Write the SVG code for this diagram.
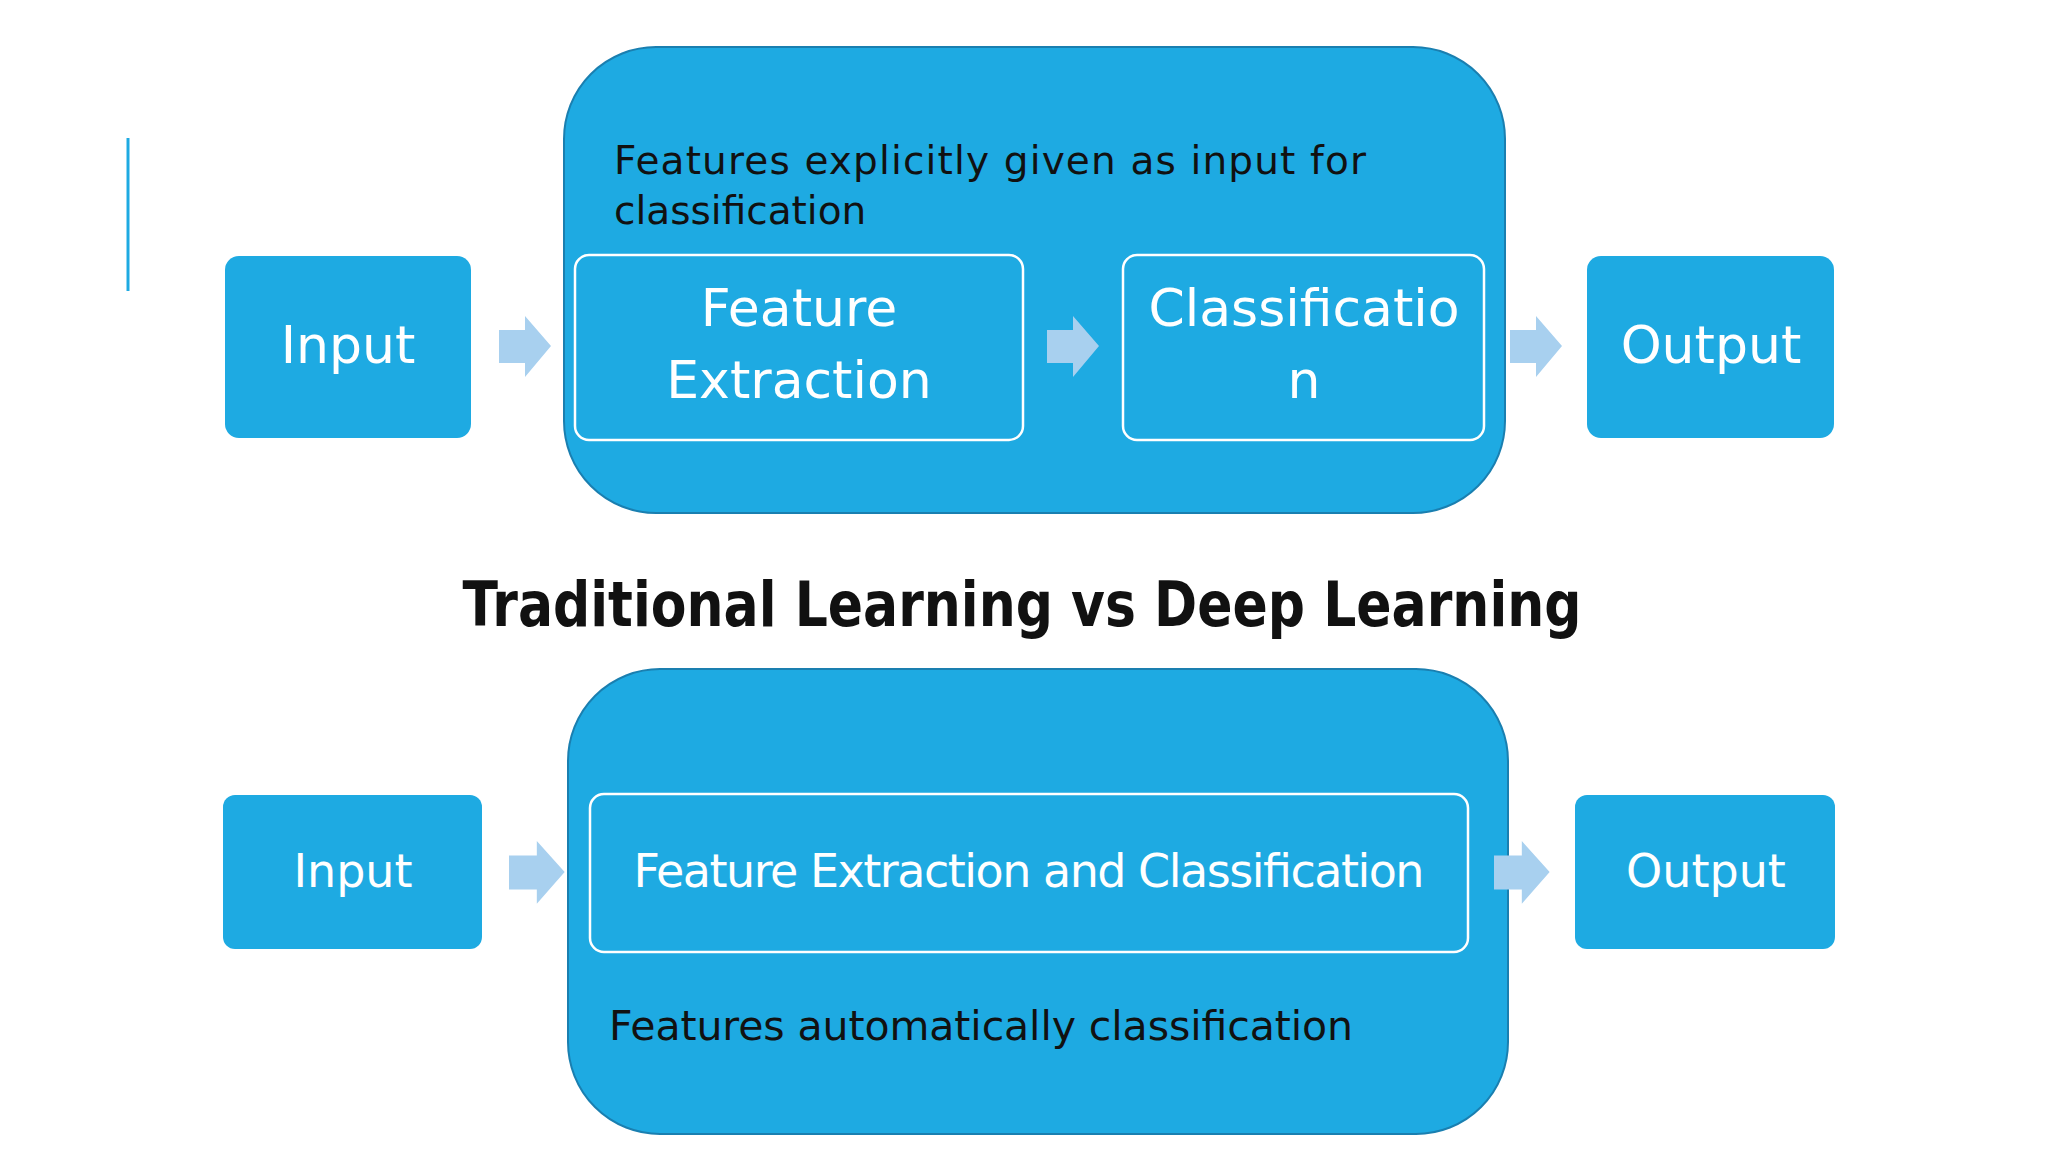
<svg xmlns="http://www.w3.org/2000/svg" width="2048" height="1152" viewBox="0 0 2048 1152">
<style>
.big{fill:#1eaae2;stroke:#1a7fb0;stroke-width:2}
.box{fill:#1eaae2}
.inner{fill:#1eaae2;stroke:#ffffff;stroke-width:2.5}
.arr{fill:#a8d0ef}
.w{fill:#ffffff;font-family:"DejaVu Sans",sans-serif;text-anchor:middle}
.k{fill:#111111;font-family:"DejaVu Sans",sans-serif}
</style>
<defs><path id="ar" d="M0,14 H26 V0 L52,30 L26,61 V47 H0 Z"/></defs>
<rect width="2048" height="1152" fill="#ffffff"/>
<line x1="128" y1="138" x2="128" y2="291" stroke="#1eaae2" stroke-width="3"/>
<g id="trad-container"><rect class="big" x="564" y="47" width="941" height="466" rx="92"/>
<text class="k" font-size="39" x="614" y="174" textLength="752">Features explicitly given as input for</text>
<text class="k" font-size="39" x="614" y="224">classification</text></g>
<g id="input1"><rect class="box" x="225" y="256" width="246" height="182" rx="14"/><text class="w" font-size="52" x="348" y="363">Input</text></g>
<g id="fe"><rect class="inner" x="575" y="255" width="448" height="185" rx="14"/><text class="w" font-size="52" x="799" y="326">Feature</text><text class="w" font-size="52" x="799" y="398">Extraction</text></g>
<g id="cls"><rect class="inner" x="1123" y="255" width="361" height="185" rx="14"/><text class="w" font-size="52" x="1304" y="326">Classificatio</text><text class="w" font-size="52" x="1304" y="398">n</text></g>
<g id="output1"><rect class="box" x="1587" y="256" width="247" height="182" rx="14"/><text class="w" font-size="52" x="1711" y="363">Output</text></g>
<g id="title"><text class="k" font-size="62" font-weight="bold" x="1022" y="626" text-anchor="middle" textLength="1119" lengthAdjust="spacingAndGlyphs">Traditional Learning  vs Deep Learning</text></g>
<g id="deep-container"><rect class="big" x="568" y="669" width="940" height="465" rx="92"/>
<text class="k" font-size="41" x="609" y="1040" textLength="744">Features automatically classification</text></g>
<g id="input2"><rect class="box" x="223" y="795" width="259" height="154" rx="12"/><text class="w" font-size="46" x="353" y="887">Input</text></g>
<g id="fec"><rect class="inner" x="590" y="794" width="878" height="158" rx="14"/><text class="w" font-size="46" x="1029" y="887" textLength="791">Feature Extraction and Classification</text></g>
<g id="output2"><rect class="box" x="1575" y="795" width="260" height="154" rx="12"/><text class="w" font-size="46" x="1706" y="887">Output</text></g>
<g id="connectors">
<use href="#ar" class="arr" transform="translate(499,316)"/>
<use href="#ar" class="arr" transform="translate(1047,316)"/>
<use href="#ar" class="arr" transform="translate(1510,316)"/>
<use href="#ar" class="arr" transform="translate(509,841) scale(1.07,1.03)"/>
<use href="#ar" class="arr" transform="translate(1494,841) scale(1.07,1.03)"/>
</g>
</svg>
